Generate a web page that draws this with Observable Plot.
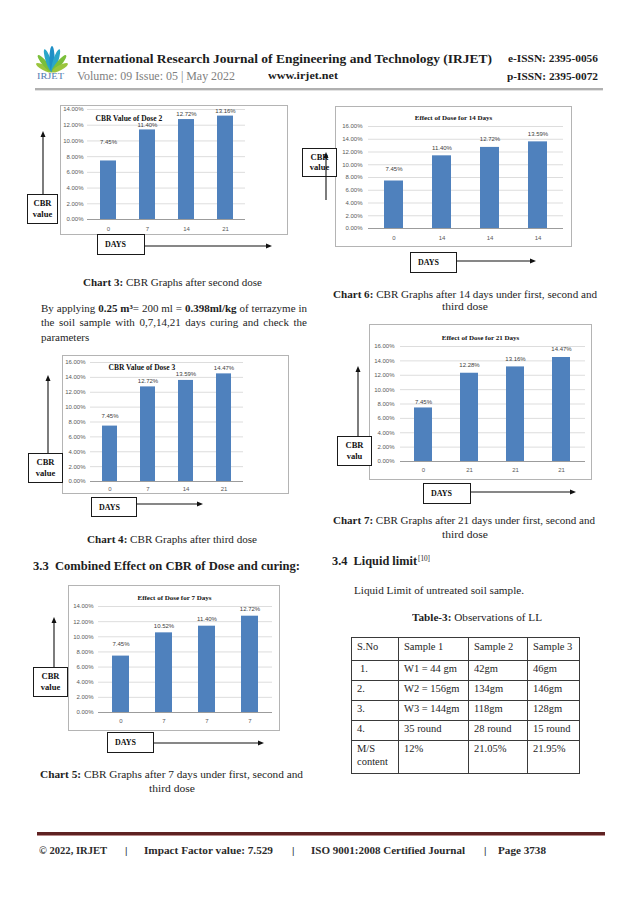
<!DOCTYPE html>
<html>
<head>
<meta charset="utf-8">
<script src="https://cdn.jsdelivr.net/npm/d3@7"></script>
<script src="https://cdn.jsdelivr.net/npm/@observablehq/plot@0.6"></script>
<style>
  html, body { margin: 0; padding: 0; background: #fff; }
  #page { position: relative; width: 638px; height: 902px; overflow: hidden; background: #fff; }
  .t { position: absolute; white-space: nowrap; line-height: 1; }
  .chart { position: absolute; outline: 1px solid #b4b4b4; outline-offset: -1px; background: #fff; }
  .chart svg { display: block; }
  .abox { position: absolute; box-sizing: border-box; border: 1px solid #1a1a1a; background: #fff; }
  .hl { position: absolute; background: #333; }
</style>
</head>
<body>
<div id="page"></div>
<script>
// ---------------- DATA ----------------
const dose2Days = ["0", "7", "14", "21"];
const dose2CBR = [0.0745, 0.1140, 0.1272, 0.1316];

const dose3Days = ["0", "7", "14", "21"];
const dose3CBR = [0.0745, 0.1272, 0.1359, 0.1447];

const days7Labels = ["0", "7", "7", "7"];
const days7CBR = [0.0745, 0.1052, 0.1140, 0.1272];

const days14Labels = ["0", "14", "14", "14"];
const days14CBR = [0.0745, 0.1140, 0.1272, 0.1359];

const days21Labels = ["0", "21", "21", "21"];
const days21CBR = [0.0745, 0.1228, 0.1316, 0.1447];

const tableHeader = ["S.No", "Sample 1", "Sample 2", "Sample 3"];
const tableRows = [
  [" 1.", "W1 = 44 gm", "42gm", "46gm"],
  ["2.", "W2 = 156gm", "134gm", "146gm"],
  ["3.", "W3 = 144gm", "118gm", "128gm"],
  ["4.", "35 round", "28 round", "15 round"],
  ["M/S<br>content", "12%", "21.05%", "21.95%"]
];

// ---------------- HELPERS ----------------
const SERIF = "'Liberation Serif', 'DejaVu Serif', serif";
const SANS = "'Liberation Sans', Arial, sans-serif";
const page = document.getElementById("page");

function txt(html, o) {
  const d = document.createElement("div");
  d.className = "t";
  d.innerHTML = html;
  d.style.fontSize = o.size + "px";
  d.style.fontWeight = o.bold ? "bold" : "normal";
  d.style.color = o.color || "#1e1e1e";
  d.style.fontFamily = o.font || SERIF;
  if (o.lh) d.style.lineHeight = o.lh + "px";
  page.appendChild(d);
  const w0 = d.getBoundingClientRect().width;
  let s = 1, wf = w0;
  if (o.width && o.justify) {
    const n = (d.textContent.match(/ /g) || []).length;
    if (n > 0) d.style.wordSpacing = ((o.width - w0) / n) + "px";
    wf = o.width;
  } else if (o.width) {
    s = o.width / w0; wf = o.width;
  }
  const a = o.anchor || "start";
  const left = a === "start" ? o.x : a === "middle" ? o.x - wf / 2 : o.x - wf;
  d.style.left = left + "px";
  d.style.top = (o.cy - o.size * 0.55) + "px";
  if (s !== 1) { d.style.transform = `scaleX(${s})`; d.style.transformOrigin = "0 0"; }
  return d;
}

function rect(l, t, w, h, color) {
  const d = document.createElement("div");
  d.className = "hl";
  Object.assign(d.style, { left: l + "px", top: t + "px", width: w + "px", height: h + "px", background: color });
  page.appendChild(d);
  return d;
}

const pct = d3.format(".2%");

function cbrChart(cfg, labels, values) {
  const data = values.map((v, i) => ({ i, v }));
  const idx = d3.range(values.length);
  const yt = d3.ticks(0, cfg.max, Math.round(cfg.max / 0.02));
  const svg = Plot.plot({
    width: cfg.w, height: cfg.h,
    marginLeft: cfg.px0 - cfg.l, marginRight: cfg.l + cfg.w - cfg.px1,
    marginTop: cfg.py0 - cfg.t, marginBottom: cfg.t + cfg.h - cfg.py1,
    style: { fontFamily: SANS, fontSize: "6px", color: "#595959", background: "transparent", overflow: "visible" },
    x: { domain: idx, paddingInner: 0.6, paddingOuter: 0.3 },
    y: { domain: [0, cfg.max] },
    marks: [
      Plot.gridY(yt, { stroke: "#d4d4d4", strokeOpacity: 1, strokeWidth: 0.8 }),
      Plot.axisY(yt, { tickSize: 0, tickPadding: cfg.ypad, tickFormat: pct, label: null, fill: "#595959" }),
      Plot.axisX(idx, { tickSize: 0, tickPadding: cfg.xpad, tickFormat: i => labels[i], label: null, fill: "#595959" }),
      Plot.barY(data, { x: "i", y: "v", fill: "#4f81bd" }),
      Plot.ruleY([0], { stroke: "#8c8c8c", strokeWidth: 0.8 }),
      Plot.text(data.slice(0, 1), { x: "i", y: "v", text: d => pct(d.v), dy: cfg.dy0, fill: "#404040", fontSize: 6 }),
      Plot.text(data.slice(1), { x: "i", y: "v", text: d => pct(d.v), dy: cfg.dy, fill: "#404040", fontSize: 6 }),
      Plot.text([cfg.title], {
        text: d => d, frameAnchor: "top-left",
        dx: cfg.tx - cfg.px0, dy: cfg.tcy - cfg.py0, textAnchor: cfg.tanchor,
        fontFamily: SERIF, fontWeight: "bold", fontSize: cfg.tsize, fill: "#111"
      })
    ]
  });
  const wrap = document.createElement("div");
  wrap.className = "chart";
  Object.assign(wrap.style, { left: cfg.l + "px", top: cfg.t + "px", width: cfg.w + "px", height: cfg.h + "px" });
  wrap.appendChild(svg);
  page.appendChild(wrap);
}

function annBox(b, lines, days) {
  const d = document.createElement("div");
  d.className = "abox";
  Object.assign(d.style, { left: b.l + "px", top: b.t + "px", width: b.w + "px", height: b.h + "px" });
  page.appendChild(d);
  if (days) {
    txt("DAYS", { x: b.l + 8, cy: b.t + b.h / 2 + 1, size: 8, bold: true, color: "#111" });
  } else {
    const cx = b.l + b.w / 2, cy = b.t + b.h / 2;
    txt(lines[0], { x: cx, cy: cy - 5, size: 8.5, bold: true, anchor: "middle", color: "#111" });
    txt(lines[1], { x: cx, cy: cy + 5.5, size: 8.5, bold: true, anchor: "middle", color: "#111" });
  }
}

// ---------------- HEADER ----------------
(function logo() {
  const ns = "http://www.w3.org/2000/svg";
  const s = document.createElementNS(ns, "svg");
  s.setAttribute("width", 40); s.setAttribute("height", 40);
  s.style.position = "absolute"; s.style.left = "33px"; s.style.top = "44px";
  const cols = ["#9bc53d", "#7bbf3a", "#2aa6c9", "#1e8fc6", "#2aa6c9", "#7bbf3a", "#9bc53d"];
  const angs = [-62, -40, -18, 0, 18, 40, 62];
  const lens = [9, 11, 12, 13, 12, 11, 9];
  angs.forEach((a, k) => {
    const e = document.createElementNS(ns, "ellipse");
    e.setAttribute("cx", 0); e.setAttribute("cy", -lens[k]); e.setAttribute("rx", 2.6); e.setAttribute("ry", lens[k]);
    e.setAttribute("fill", cols[k]);
    e.setAttribute("transform", `translate(19,28) rotate(${a})`);
    s.appendChild(e);
  });
  page.appendChild(s);
})();
txt("IRJET", { x: 37, cy: 77.5, size: 8, color: "#4d79b0", width: 27 });
txt("International Research Journal of Engineering and Technology (IRJET)", { x: 77, cy: 59, size: 13.5, bold: true, width: 415, color: "#1c1c1c" });
txt("e-ISSN: 2395-0056", { x: 508, cy: 59, size: 11, bold: true, width: 90, color: "#1c1c1c" });
txt("Volume: 09 Issue: 05 | May 2022", { x: 77, cy: 77, size: 11.5, width: 158, color: "#808080" });
txt("www.irjet.net", { x: 268, cy: 77, size: 10.5, bold: true, width: 70, color: "#1c1c1c" });
txt("p-ISSN: 2395-0072", { x: 507, cy: 77, size: 11, bold: true, width: 91, color: "#1c1c1c" });
rect(35, 88, 568, 1.5, "#b0b0b0");
rect(35, 89.5, 568, 1, "#e2e2e2");

// ---------------- CHARTS ----------------
cbrChart({ l: 60, t: 105, w: 228, h: 130, px0: 87, px1: 245, py0: 109, py1: 219, max: 0.14,
  title: "CBR Value of Dose 2", tx: 95, tcy: 115, tanchor: "start", tsize: 7.5,
  dy0: -19, dy: -5, xpad: 7, ypad: 4 }, dose2Days, dose2CBR);

cbrChart({ l: 62, t: 355, w: 227, h: 139, px0: 90, px1: 243, py0: 362, py1: 481, max: 0.16,
  title: "CBR Value of Dose 3", tx: 108, tcy: 364, tanchor: "start", tsize: 7.5,
  dy0: -10, dy: -6, xpad: 5, ypad: 5 }, dose3Days, dose3CBR);

cbrChart({ l: 68, t: 585, w: 212, h: 146, px0: 98, px1: 272, py0: 606, py1: 712, max: 0.14,
  title: "Effect of Dose for 7 Days", tx: 174, tcy: 595, tanchor: "middle", tsize: 7,
  dy0: -12, dy: -7, xpad: 6, ypad: 5 }, days7Labels, days7CBR);

cbrChart({ l: 335, t: 106, w: 237, h: 141, px0: 368, px1: 563, py0: 126, py1: 228, max: 0.16,
  title: "Effect of Dose for 14 Days", tx: 453, tcy: 115, tanchor: "middle", tsize: 7,
  dy0: -12, dy: -8, xpad: 7, ypad: 6 }, days14Labels, days14CBR);

cbrChart({ l: 369, t: 324, w: 223, h: 156, px0: 400, px1: 585, py0: 346, py1: 461, max: 0.16,
  title: "Effect of Dose for 21 Days", tx: 480, tcy: 335, tanchor: "middle", tsize: 7,
  dy0: -6, dy: -8, xpad: 6, ypad: 6 }, days21Labels, days21CBR);

// ---------------- ANNOTATIONS ----------------
const anns = [
  { box: { l: 27, t: 194, w: 31, h: 30 }, lines: ["CBR", "value"], va: { x: 43, y1: 194, y2: 131 }, days: { l: 97, t: 234, w: 48, h: 21 }, ha: { y: 246, x1: 145, x2: 272 } },
  { box: { l: 28, t: 453, w: 35, h: 30 }, lines: ["CBR", "value"], va: { x: 48, y1: 453, y2: 375 }, days: { l: 91, t: 497, w: 46, h: 20 }, ha: { y: 504, x1: 137, x2: 203 } },
  { box: { l: 33, t: 667, w: 35, h: 30 }, lines: ["CBR", "value"], va: { x: 54, y1: 667, y2: 617 }, days: { l: 107, t: 732, w: 47, h: 21 }, ha: { y: 743, x1: 154, x2: 264 } },
  { box: { l: 302, t: 148, w: 35, h: 29 }, lines: ["CBR", "value"], va: { x: 326, y1: 200, y2: 152 }, days: { l: 410, t: 252, w: 47, h: 21 }, ha: { y: 261, x1: 457, x2: 536 } },
  { box: { l: 337, t: 436, w: 35, h: 30 }, lines: ["CBR", "valu"], va: { x: 358, y1: 436, y2: 366 }, days: { l: 423, t: 483, w: 48, h: 21 }, ha: { y: 492, x1: 471, x2: 576 } }
];
anns.forEach(a => { annBox(a.box, a.lines, false); annBox(a.days, null, true); });

(function arrows() {
  const ns = "http://www.w3.org/2000/svg";
  const s = document.createElementNS(ns, "svg");
  s.setAttribute("width", 638); s.setAttribute("height", 902);
  Object.assign(s.style, { position: "absolute", left: 0, top: 0, pointerEvents: "none" });
  const line = (x1, y1, x2, y2) => {
    const l = document.createElementNS(ns, "line");
    l.setAttribute("x1", x1); l.setAttribute("y1", y1); l.setAttribute("x2", x2); l.setAttribute("y2", y2);
    l.setAttribute("stroke", "#111"); l.setAttribute("stroke-width", 1.1);
    s.appendChild(l);
  };
  const head = (pts) => {
    const p = document.createElementNS(ns, "polygon");
    p.setAttribute("points", pts); p.setAttribute("fill", "#111");
    s.appendChild(p);
  };
  anns.forEach(a => {
    const v = a.va, h = a.ha;
    line(v.x, v.y1, v.x, v.y2 + 5);
    head(`${v.x},${v.y2} ${v.x - 2.5},${v.y2 + 6} ${v.x + 2.5},${v.y2 + 6}`);
    line(h.x1, h.y, h.x2 - 5, h.y);
    head(`${h.x2},${h.y} ${h.x2 - 6},${h.y - 2.5} ${h.x2 - 6},${h.y + 2.5}`);
  });
  page.appendChild(s);
})();

// ---------------- BODY TEXT ----------------
txt("<b>Chart 3:</b> CBR Graphs after second dose", { x: 83, cy: 283, size: 11, width: 179 });
txt("By applying <b>0.25 m³</b>= 200 ml = <b>0.398ml/kg</b> of terrazyme in", { x: 41, cy: 309, size: 11, width: 266, justify: true });
txt("the soil sample with 0,7,14,21 days curing and check the", { x: 41, cy: 323.5, size: 11, width: 266, justify: true });
txt("parameters", { x: 41, cy: 338, size: 11 });
txt("<b>Chart 4:</b> CBR Graphs after third dose", { x: 172, cy: 540, size: 11, width: 170, anchor: "middle" });
txt("3.3&nbsp;&nbsp;Combined Effect on CBR of Dose and curing:", { x: 33, cy: 567, size: 12.5, bold: true, width: 267 });
txt("<b>Chart 5:</b> CBR Graphs after 7 days under first, second and", { x: 40, cy: 775, size: 11, width: 263 });
txt("third dose", { x: 172, cy: 789, size: 11, width: 46, anchor: "middle" });

txt("<b>Chart 6:</b> CBR Graphs after 14 days under first, second and", { x: 333, cy: 295, size: 11, width: 264 });
txt("third dose", { x: 465, cy: 307, size: 11, width: 46, anchor: "middle" });
txt("<b>Chart 7:</b> CBR Graphs after 21 days under first, second and", { x: 333, cy: 521, size: 11, width: 262 });
txt("third dose", { x: 465, cy: 535, size: 11, width: 46, anchor: "middle" });
txt("3.4&nbsp;&nbsp;Liquid limit", { x: 332, cy: 562, size: 12.5, bold: true, width: 85 });
txt("[10]", { x: 418, cy: 559, size: 7.5, width: 12 });
txt("Liquid Limit of untreated soil sample.", { x: 354, cy: 591, size: 11, width: 170 });
txt("<b>Table-3:</b> Observations of LL", { x: 412, cy: 618, size: 11, width: 130 });

// ---------------- TABLE ----------------
const colX = [351, 398, 468, 527, 579];
const rowY = [637, 660, 680, 700, 720, 740, 773];
rowY.forEach(y => rect(colX[0], y, colX[4] - colX[0] + 1, 1.2, "#3a3a3a"));
colX.forEach(x => rect(x, rowY[0], 1.2, rowY[6] - rowY[0] + 1, "#3a3a3a"));
tableHeader.forEach((h, c) => txt(h, { x: colX[c] + 6, cy: 648, size: 10.5 }));
const rowCy = [670, 690, 710, 730, 750];
tableRows.forEach((r, k) => r.forEach((cell, c) => {
  if (cell.includes("<br>")) {
    const parts = cell.split("<br>");
    txt(parts[0], { x: colX[c] + 6, cy: rowCy[k], size: 10.5 });
    txt(parts[1], { x: colX[c] + 6, cy: rowCy[k] + 13, size: 10.5 });
  } else {
    const ind = cell.startsWith(" ") ? 3 : 0;
    txt(cell.trim(), { x: colX[c] + 6 + ind, cy: rowCy[k], size: 10.5 });
  }
}));

// ---------------- FOOTER ----------------
rect(37, 832, 568, 3, "#5e2222");
rect(37, 835, 568, 1, "#b98a8a");
txt("© 2022, IRJET", { x: 39, cy: 851, size: 11, bold: true, width: 68, color: "#2a2a2a" });
txt("|", { x: 125, cy: 851, size: 11, bold: true, color: "#2a2a2a" });
txt("Impact Factor value: 7.529", { x: 144, cy: 851, size: 11, bold: true, width: 129, color: "#2a2a2a" });
txt("|", { x: 292, cy: 851, size: 11, bold: true, color: "#2a2a2a" });
txt("ISO 9001:2008 Certified Journal", { x: 311, cy: 851, size: 11, bold: true, width: 154, color: "#2a2a2a" });
txt("|", { x: 484, cy: 851, size: 11, bold: true, color: "#2a2a2a" });
txt("Page 3738", { x: 498, cy: 851, size: 11, bold: true, width: 48, color: "#2a2a2a" });
</script>
</body>
</html>
